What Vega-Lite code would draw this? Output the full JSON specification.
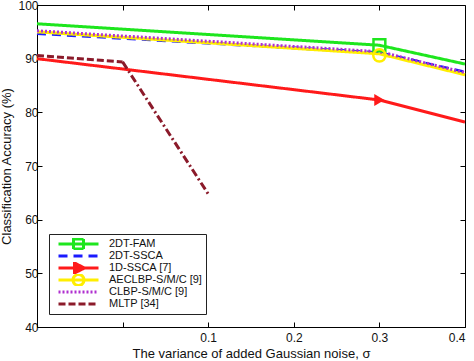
{
  "$schema": "https://vega.github.io/schema/vega-lite/v6.json",
  "width": 428,
  "height": 322,
  "autosize": {"type": "none"},
  "padding": {"left": 37, "top": 5, "right": 9, "bottom": 34},
  "config": {
    "font": "Liberation Sans",
    "view": {"stroke": "black", "strokeWidth": 1},
    "axis": {
      "grid": false,
      "domainColor": "black",
      "tickColor": "black",
      "labelColor": "#111",
      "titleColor": "#111",
      "labelFontSize": 12,
      "titleFontSize": 13,
      "titleFontWeight": "normal",
      "tickSize": -5,
      "labelPadding": 4
    },
    "legend": {
      "orient": "none",
      "legendX": 12,
      "legendY": 229,
      "strokeColor": "#222",
      "fillColor": "white",
      "padding": 4,
      "labelFontSize": 11,
      "labelColor": "#111",
      "symbolType": "M-4,0H4",
      "symbolSize": 100,
      "symbolStrokeWidth": 3,
      "symbolOffset": 19,
      "labelOffset": 24,
      "rowPadding": 0,
      "clipHeight": 12
    }
  },
  "datasets": {
    "acc": [
      {"series": "2DT-FAM", "part": "a", "sigma": -0.1, "acc": 96.5},
      {"series": "2DT-FAM", "part": "a", "sigma": 0.3, "acc": 92.5},
      {"series": "2DT-FAM", "part": "a", "sigma": 0.4, "acc": 89.0},
      {"series": "2DT-SSCA", "part": "a", "sigma": -0.1, "acc": 94.7},
      {"series": "2DT-SSCA", "part": "a", "sigma": 0.3, "acc": 91.1},
      {"series": "2DT-SSCA", "part": "a", "sigma": 0.4, "acc": 87.5},
      {"series": "1D-SSCA [7]", "part": "a", "sigma": -0.1, "acc": 90.0},
      {"series": "1D-SSCA [7]", "part": "a", "sigma": 0.3, "acc": 82.3},
      {"series": "1D-SSCA [7]", "part": "a", "sigma": 0.4, "acc": 78.2},
      {"series": "AECLBP-S/M/C [9]", "part": "a", "sigma": -0.1, "acc": 95.0},
      {"series": "AECLBP-S/M/C [9]", "part": "a", "sigma": 0.3, "acc": 90.9},
      {"series": "AECLBP-S/M/C [9]", "part": "a", "sigma": 0.4, "acc": 87.0},
      {"series": "CLBP-S/M/C [9]", "part": "a", "sigma": -0.1, "acc": 95.2},
      {"series": "CLBP-S/M/C [9]", "part": "a", "sigma": 0.3, "acc": 91.3},
      {"series": "CLBP-S/M/C [9]", "part": "a", "sigma": 0.4, "acc": 87.4},
      {"series": "MLTP [34]", "part": "a", "sigma": -0.1, "acc": 90.6},
      {"series": "MLTP [34]", "part": "a", "sigma": 0.0, "acc": 89.4},
      {"series": "MLTP [34]", "part": "b", "sigma": 0.0, "acc": 89.4},
      {"series": "MLTP [34]", "part": "b", "sigma": 0.1, "acc": 64.8}
    ],
    "markers": [
      {"series": "2DT-FAM", "sigma": 0.3, "acc": 92.5},
      {"series": "1D-SSCA [7]", "sigma": 0.3, "acc": 82.3},
      {"series": "AECLBP-S/M/C [9]", "sigma": 0.3, "acc": 90.6}
    ]
  },
  "resolve": {"scale": {"x": "independent", "y": "independent"}},
  "layer": [
    {
      "layer": [
        {
          "data": {"name": "acc"},
          "transform": [{"filter": "datum.part == 'a'"}],
          "mark": {"type": "line", "strokeWidth": 3},
          "encoding": {
            "x": {
              "field": "sigma", "type": "quantitative",
              "scale": {"domain": [-0.1, 0.4], "nice": false, "zero": false},
              "axis": {"values": [0, 0.1, 0.2, 0.3, 0.4], "labelExpr": "datum.value == 0 ? '' : datum.label", "format": ".1f", "title": "The variance of added Gaussian noise,  σ", "titlePadding": 4, "labelPadding": 10}
            },
            "y": {
              "field": "acc", "type": "quantitative",
              "scale": {"domain": [40, 100], "nice": false, "zero": false},
              "axis": {"values": [40, 50, 60, 70, 80, 90, 100], "title": "Classification Accuracy (%)", "titlePadding": 4}
            },
            "color": {
              "field": "series", "type": "nominal",
              "scale": {
                "domain": ["2DT-FAM", "2DT-SSCA", "1D-SSCA [7]", "AECLBP-S/M/C [9]", "CLBP-S/M/C [9]", "MLTP [34]"],
                "range": ["#1ee61e", "#1a1aff", "#ff1a1a", "#ffee00", "#b030d0", "#8b1a2a"]
              },
              "legend": {
                "title": null,
                "encode": {
                  "symbols": {
                    "update": {
                      "shape": {"signal": "datum.value == '2DT-FAM' ? 'M-4,0H4M-1,-1H1V1H-1Z' : datum.value == '1D-SSCA [7]' ? 'M-4,0H4M-0.8,-1L1.2,0L-0.8,1Z' : datum.value == 'AECLBP-S/M/C [9]' ? 'M-4,0H4M-1.1,0A1.1,1.1 0 1,0 1.1,0A1.1,1.1 0 1,0 -1.1,0' : 'M-4,0H4'"},
                      "fill": {"signal": "datum.value == '1D-SSCA [7]' ? '#ff1a1a' : 'transparent'"}
                    }
                  }
                }
              }
            },
            "strokeDash": {
              "field": "series", "type": "nominal",
              "scale": {
                "domain": ["2DT-FAM", "2DT-SSCA", "1D-SSCA [7]", "AECLBP-S/M/C [9]", "CLBP-S/M/C [9]", "MLTP [34]"],
                "range": [[1, 0], [9, 6], [1, 0], [1, 0], [2, 2], [7, 3]]
              },
              "legend": {"title": null}
            },
            "order": {"field": "sigma", "type": "quantitative"}
          }
        },
        {
          "data": {"name": "acc"},
          "transform": [{"filter": "datum.part == 'b'"}],
          "mark": {"type": "line", "strokeWidth": 3, "color": "#8b1a2a", "strokeDash": [8, 3, 2, 3]},
          "encoding": {
            "x": {"field": "sigma", "type": "quantitative"},
            "y": {"field": "acc", "type": "quantitative"}
          }
        },
        {
          "data": {"name": "markers"},
          "transform": [{"filter": "datum.series == '2DT-FAM'"}],
          "mark": {"type": "point", "shape": "square", "filled": false, "color": "#1ee61e", "strokeWidth": 2.5, "size": 140, "opacity": 1},
          "encoding": {
            "x": {"field": "sigma", "type": "quantitative"},
            "y": {"field": "acc", "type": "quantitative"}
          }
        },
        {
          "data": {"name": "markers"},
          "transform": [{"filter": "datum.series == '1D-SSCA [7]'"}],
          "mark": {"type": "point", "shape": "triangle-right", "filled": true, "color": "#ff1a1a", "size": 140, "opacity": 1},
          "encoding": {
            "x": {"field": "sigma", "type": "quantitative"},
            "y": {"field": "acc", "type": "quantitative"}
          }
        },
        {
          "data": {"name": "markers"},
          "transform": [{"filter": "datum.series == 'AECLBP-S/M/C [9]'"}],
          "mark": {"type": "point", "shape": "circle", "filled": false, "color": "#ffee00", "strokeWidth": 2.5, "size": 150, "opacity": 1},
          "encoding": {
            "x": {"field": "sigma", "type": "quantitative"},
            "y": {"field": "acc", "type": "quantitative"}
          }
        }
      ]
    },
    {
      "data": {"name": "markers"},
      "mark": {"type": "point", "opacity": 0},
      "encoding": {
        "x": {
          "field": "sigma", "type": "quantitative",
          "scale": {"domain": [-0.1, 0.4], "nice": false, "zero": false},
          "axis": {"orient": "top", "values": [0, 0.1, 0.2, 0.3, 0.4], "labels": false, "title": null, "domain": false}
        },
        "y": {
          "field": "acc", "type": "quantitative",
          "scale": {"domain": [40, 100], "nice": false, "zero": false},
          "axis": {"orient": "right", "values": [50, 60, 70, 80, 90], "labels": false, "title": null, "domain": false}
        }
      }
    }
  ]
}
